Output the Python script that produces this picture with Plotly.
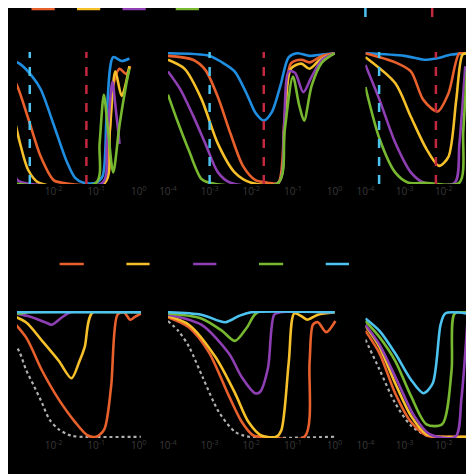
import plotly.graph_objects as go

W = H = 466   # page body adds an 8px offset; screen px = fig px + 8
OFF = 8
C = {"blue": "#1f8ee0", "orange": "#e8602c", "yellow": "#f5c02a", "purple": "#8e3fb3",
     "green": "#77b830", "cyan": "#4dc3f0", "red": "#c2283e", "gray": "#b0b0b0"}

# ---- data (log10 x, y) ----
p1 = {
 "blue":   ([-3.1,-2.8,-2.5,-2.3,-2.0,-1.7,-1.5,-1.3,-1.0,-0.85,-0.75,-0.6,-0.4,-0.22],
            [.96,.92,.82,.72,.45,.17,.04,0,0,.05,.55,.97,.94,.96]),
 "orange": ([-3.1,-2.9,-2.6,-2.3,-2.0,-1.8,-0.8,-0.7,-0.6,-0.45,-0.3,-0.2],
            [.85,.78,.5,.2,.02,0,0,.3,.75,.88,.84,.9]),
 "yellow": ([-3.1,-3.0,-2.8,-2.6,-2.35,-0.8,-0.68,-0.55,-0.4,-0.22],
            [.65,.59,.32,.1,0,0,.4,.86,.67,.9]),
 "purple": ([-3.1,-3.0,-2.85,-2.7,-0.85,-0.75,-0.62,-0.55,-0.45],
            [.25,.16,.02,0,0,.3,.78,.6,.3]),
 "green":  ([-3.1,-1.0,-0.92,-0.82,-0.72,-0.6,-0.45,-0.3,-0.22],
            [0,0,.3,.68,.4,.08,.45,.75,.88]),
}
p2 = {
 "blue":   ([-4,-3,-2.7,-2.4,-2.1,-1.9,-1.7,-1.5,-1.3,-1.1,-0.9,-0.6,-0.3,0],
            [1,.98,.93,.86,.68,.54,.48,.55,.75,.97,1,.98,.99,1]),
 "orange": ([-4,-3.4,-3.1,-2.8,-2.5,-2.2,-1.9,-1.6,-1.35,-1.2,-1.05,-0.8,-0.6,-0.3,0],
            [.98,.95,.87,.66,.38,.13,.02,0,0,.5,.92,.95,.93,.98,1]),
 "yellow": ([-4,-3.6,-3.2,-2.8,-2.4,-2.0,-1.35,-1.2,-1.05,-0.8,-0.6,-0.35,0],
            [.95,.88,.65,.3,.08,0,0,.45,.88,.92,.88,.95,1]),
 "purple": ([-4,-3.7,-3.4,-3.1,-2.8,-2.5,-1.35,-1.22,-1.1,-0.95,-0.75,-0.55,-0.3,0],
            [.86,.72,.52,.3,.08,0,0,.4,.86,.85,.7,.82,.95,1]),
 "green":  ([-4,-3.8,-3.5,-3.2,-3.0,-1.35,-1.2,-1.0,-0.85,-0.73,-0.55,-0.3,0],
            [.68,.5,.25,.03,0,0,.4,.82,.6,.48,.75,.93,1]),
}
p3 = {
 "blue":   ([-4,-3,-2.5,-2.2,-1.8,-1.4], [1,.98,.95,.96,.99,1]),
 "orange": ([-4,-3.24,-2.84,-2.52,-2.16,-1.88,-1.6,-1.4], [1,.93,.86,.64,.55,.69,1,1]),
 "yellow": ([-4,-3.24,-2.84,-2.44,-2.12,-1.88,-1.68,-1.52,-1.4], [.97,.77,.51,.26,.13,.2,.64,.99,1]),
 "purple": ([-4,-3.64,-3.24,-2.84,-2.5,-1.72,-1.6,-1.45], [.91,.64,.31,.08,0,0,.3,.9]),
 "green":  ([-4,-3.64,-3.24,-2.9,-2.5,-1.6,-1.5,-1.4], [.74,.34,.08,0,0,0,.4,.9]),
}
p4 = {
 "gray":   ([-3.1,-3.04,-2.8,-2.65,-2.45,-2.27,-2.1,-1.88,-1.6,-1.4,0.05],
            [.88,.82,.68,.54,.4,.27,.14,.06,.01,0,0]),
 "orange": ([-3.1,-2.65,-2.27,-1.88,-1.5,-1.2,-1.0,-0.81,-0.65,-0.5,-0.35,-0.2,-0.1,0.05],
            [.98,.8,.53,.3,.12,.01,0,.06,.4,.98,1,.94,.96,.99]),
 "yellow": ([-3.1,-2.65,-2.27,-1.88,-1.58,-1.4,-1.27,-1.08,0.05],
            [.99,.92,.77,.61,.47,.6,.72,1,1]),
 "purple": ([-3.1,-2.6,-2.2,-2.04,-1.8,-1.6,0.05], [1,.97,.92,.9,.96,1,1]),
 "green":  ([-3.1,-2.8,-2.6,0.05], [1,.99,1,1]),
 "cyan":   ([-3.1,0.05], [1,1]),
}
p5 = {
 "gray":   ([-4,-3.75,-3.49,-3.17,-2.78,-2.39,-2.05,0], [.93,.85,.72,.48,.2,.04,0,0]),
 "orange": ([-4,-3.5,-3.02,-2.54,-2.23,-1.95,-1.7,-0.72,-0.6,-0.52,-0.4,-0.2,0.02],
            [.96,.88,.68,.33,.12,.01,0,0,.6,.9,.92,.84,.93]),
 "yellow": ([-4,-3.5,-2.86,-2.39,-2.07,-1.76,-1.4,-1.28,-1.1,-0.97,-0.8,-0.66,-0.4,0],
            [.97,.9,.64,.35,.12,.01,0,.05,.6,.99,.97,.94,.98,1]),
 "purple": ([-4,-3.2,-2.54,-2.23,-1.91,-1.79,-1.6,-1.45,-1.3,0],
            [.98,.9,.67,.48,.35,.36,.55,.98,1,1]),
 "green":  ([-4,-3.2,-2.7,-2.39,-2.1,-1.85,0], [.99,.95,.85,.77,.88,1,1]),
 "cyan":   ([-4,-3.2,-2.62,-2.3,-2.0,0], [1,.98,.92,.97,1,1]),
}
p6 = {
 "gray":   ([-4,-3.64,-3.24,-2.84,-2.44,-2.1,-1.4], [.78,.54,.27,.09,.01,0,0]),
 "orange": ([-4,-3.64,-3.24,-2.84,-2.44,-2.1,-1.4], [.85,.67,.35,.12,.01,0,0]),
 "yellow": ([-4,-3.64,-3.24,-2.84,-2.44,-2.1,-1.4], [.89,.72,.43,.17,.02,0,0]),
 "purple": ([-4,-3.64,-3.16,-2.76,-2.36,-1.7,-1.55,-1.4], [.9,.74,.43,.17,.02,0,.3,.9]),
 "green":  ([-4,-3.64,-3.24,-2.84,-2.44,-2.04,-1.8,-1.72,-1.4], [.93,.8,.61,.33,.1,.1,.53,.99,1]),
 "cyan":   ([-4,-3.64,-3.24,-2.84,-2.52,-2.28,-2.08,-1.96,-1.4], [.95,.85,.67,.46,.35,.43,.9,.99,.99]),
}
vlines = [(-2.56, -1.23), (-3.0, -1.7), (-3.65, -2.2)]  # (cyan, red) per top panel

panels = [p1, p2, p3, p4, p5, p6]
# screen-pixel layout (converted to figure pixels by subtracting OFF)
xdom_px = [(8, 136), (164, 340), (368, 474)]
xranges = [[-2.86, 0.05], [-4.0, 0.09], [-4.0, -1.38]]
ydom_px = [(52, 184), (311, 438)]
tick_exps = [-4, -3, -2, -1, 0]

def fx(px): return min(max((px - OFF) / W, 0), 1)
def fy(py): return min(max(1 - (py - OFF) / H, 0), 1)

fig = go.Figure()
for i, p in enumerate(panels):
    r, c = divmod(i, 3)
    n = i + 1
    xa = "x" if n == 1 else f"x{n}"
    ya = "y" if n == 1 else f"y{n}"
    for name, (xs, ys) in p.items():
        fig.add_trace(go.Scatter(x=[10**v for v in xs], y=ys, mode="lines", xaxis=xa, yaxis=ya,
                                 line=dict(color=C[name], width=2.6 if name != "gray" else 2.2,
                                           shape="spline", smoothing=0.8,
                                           dash="dot" if name == "gray" else "solid"),
                                 showlegend=False))
    key = "" if n == 1 else str(n)
    fig.layout["xaxis" + key] = dict(type="log", range=xranges[c],
        domain=[fx(xdom_px[c][0]), fx(xdom_px[c][1])], anchor=ya,
        tickvals=[10**e for e in tick_exps], ticktext=[f"10<sup>{e}</sup>" for e in tick_exps],
        tickfont=dict(color="#3a3a3a", size=10), showgrid=False, zeroline=False, showline=False)
    fig.layout["yaxis" + key] = dict(range=[-0.01, 1.01],
        domain=[fy(ydom_px[r][1]), fy(ydom_px[r][0])], anchor=xa,
        showticklabels=False, showgrid=False, zeroline=False, showline=False)
    if r == 0:
        cx, rx = vlines[c]
        for xv, col in ((cx, C["cyan"]), (rx, C["red"])):
            fig.add_shape(type="line", xref=xa, yref=ya + " domain", x0=10**xv, x1=10**xv,
                          y0=0, y1=1, line=dict(color=col, width=2.5, dash="dash"))

def seg(x0, x1, y, col, dash="solid"):
    fig.add_shape(type="line", xref="paper", yref="paper", x0=fx(x0), x1=fx(x1), y0=fy(y), y1=fy(y),
                  line=dict(color=col, width=2.5, dash=dash))

for (a, b), col in zip([(0, 2), (23, 47), (70, 94), (117, 141), (172, 196)],
                       ["blue", "orange", "yellow", "purple", "green"]):
    seg(a, b, 9, C[col])
for (a, b), col in zip([(0, 8), (52, 77), (121, 145), (190, 214), (258, 283), (327, 351)],
                       ["gray", "orange", "yellow", "purple", "green", "cyan"]):
    seg(a, b, 264, C[col], "dot" if col == "gray" else "solid")
for xp, col in ((368, "cyan"), (437, "red")):
    fig.add_shape(type="line", xref="paper", yref="paper", x0=fx(xp), x1=fx(xp), y0=1, y1=fy(18),
                  line=dict(color=C[col], width=2.5, dash="dash"))

fig.update_layout(width=W, height=H, margin=dict(l=0, r=0, t=0, b=0),
                  paper_bgcolor="black", plot_bgcolor="black", showlegend=False)
fig.write_html("out.html")
